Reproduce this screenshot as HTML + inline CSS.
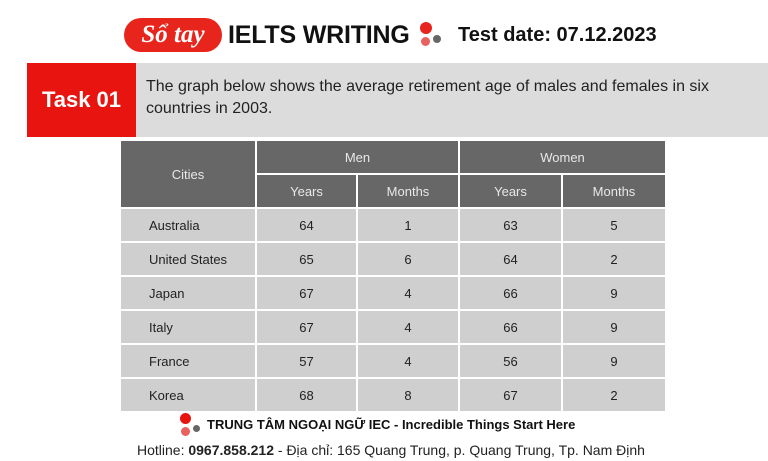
<!DOCTYPE html>
<html><head><meta charset="utf-8"><style>
*{margin:0;padding:0;box-sizing:border-box}
body{width:768px;height:461px;background:#fff;position:relative;overflow:hidden;font-family:"Liberation Sans","Noto Sans CJK SC",sans-serif}
.a{position:absolute}
.c{position:absolute;display:flex;align-items:center;justify-content:center;font-size:13px}
.h{background:#676767;color:#e8e8e8}
.d{background:#cfcfcf;color:#222}
</style></head><body>
<div class="a" style="left:124px;top:18px;width:98px;height:34px;background:#e8251c;border-radius:17px;color:#fff;font-family:'Liberation Serif',serif;font-style:italic;font-weight:bold;font-size:25px;line-height:34px;text-align:center">Sổ tay</div>
<div class="a" style="left:228px;top:17px;font-weight:bold;font-size:25px;line-height:36px;color:#111;letter-spacing:-0.2px">IELTS WRITING</div>
<div class="a" style="left:420px;top:22px;width:12px;height:12px;border-radius:50%;background:#e8251c"></div>
<div class="a" style="left:421px;top:37px;width:9px;height:9px;border-radius:50%;background:#e86060"></div>
<div class="a" style="left:433px;top:35px;width:8px;height:8px;border-radius:50%;background:#666"></div>
<div class="a" style="left:458px;top:22px;font-weight:bold;font-size:20px;line-height:26px;color:#111">Test date: 07.12.2023</div>
<div class="a" style="left:27px;top:63px;width:741px;height:74px;background:#dcdcdc"></div>
<div class="a" style="left:27px;top:63px;width:109px;height:74px;background:#e8140f;color:#fff;font-weight:bold;font-size:22px;line-height:74px;text-align:center">Task 01</div>
<div class="a" style="left:146px;top:76px;width:610px;font-size:16px;line-height:22px;color:#222">The graph below shows the average retirement age of males and females in six countries in 2003.</div>

<div class="c h" style="left:121px;top:141px;width:134px;height:66px">Cities</div>
<div class="c h" style="left:257px;top:141px;width:201px;height:32px">Men</div>
<div class="c h" style="left:460px;top:141px;width:205px;height:32px">Women</div>
<div class="c h" style="left:257px;top:175px;width:99px;height:32px">Years</div>
<div class="c h" style="left:358px;top:175px;width:100px;height:32px">Months</div>
<div class="c h" style="left:460px;top:175px;width:101px;height:32px">Years</div>
<div class="c h" style="left:563px;top:175px;width:102px;height:32px">Months</div>

<div id="rows"></div>
<script>
var r=[["Australia",64,1,63,5],["United States",65,6,64,2],["Japan",67,4,66,9],["Italy",67,4,66,9],["France",57,4,56,9],["Korea",68,8,67,2]];
var cols=[[121,134],[257,99],[358,100],[460,101],[563,102]],h="";
r.forEach(function(row,i){var y=209+i*34;row.forEach(function(v,j){var s=j==0?"justify-content:flex-start;padding-left:28px;":"";h+='<div class="c d" style="'+s+'left:'+cols[j][0]+'px;top:'+y+'px;width:'+cols[j][1]+'px;height:32px">'+v+'</div>';});});
document.getElementById("rows").innerHTML=h;
</script>

<div class="a" style="left:180px;top:413px;width:11px;height:11px;border-radius:50%;background:#e8140f"></div>
<div class="a" style="left:181px;top:427px;width:9px;height:9px;border-radius:50%;background:#e86060"></div>
<div class="a" style="left:193px;top:425px;width:7px;height:7px;border-radius:50%;background:#666"></div>
<div class="a" style="left:207px;top:416px;font-weight:bold;font-size:13px;line-height:18px;color:#111">TRUNG TÂM NGOẠI NGỮ IEC - Incredible Things Start Here</div>
<div class="a" style="left:137px;top:441px;font-size:14px;line-height:18px;color:#222">Hotline: <b>0967.858.212</b> - Địa chỉ: 165 Quang Trung, p. Quang Trung, Tp. Nam Định</div>
</body></html>
